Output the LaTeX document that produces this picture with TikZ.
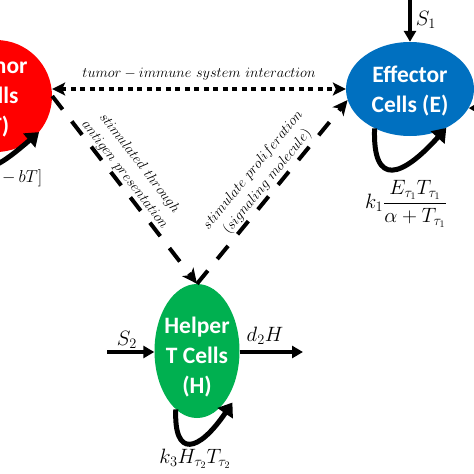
\documentclass[tikz,border=0pt]{standalone}
\usepackage{fontspec}
\usetikzlibrary{arrows.meta,shapes.geometric,calc}
\newfontfamily\cellfont{Carlito}
\definecolor{tumred}{HTML}{FF0000}
\definecolor{effblue}{HTML}{0070C0}
\definecolor{helpgreen}{HTML}{00B050}
\begin{document}
\begin{tikzpicture}[x=1pt,y=-1pt,
  cell/.style={ellipse, inner sep=0pt},
  celltext/.style={text=white, font=\cellfont\bfseries\fontsize{23.5}{30}\selectfont, align=center, inner sep=0pt},
  lbl/.style={font=\fontsize{14.3}{18.5}\selectfont, inner sep=1pt},
  biglbl/.style={font=\fontsize{20}{24}\selectfont, inner sep=1pt},
  flow/.style={line width=3.5pt, -{Triangle[length=11pt,width=12pt]}},
  selfloop/.style={line width=5pt, -{Triangle[length=13pt,width=18pt]}},
  dotline/.style={line width=4.5pt, dash pattern=on 5pt off 4.5pt, {Stealth[length=13pt,width=13pt,inset=3pt]}-{Stealth[length=13pt,width=13pt,inset=3pt]}},
  dashline/.style={line width=4pt, dash pattern=on 17pt off 15pt, -{Stealth[length=15pt,width=14pt,inset=4pt]}}
]
\useasboundingbox (0,0) rectangle (474,474);
\clip (0,0) rectangle (474,474);
\fill[white] (0,0) rectangle (474,474);

% cells
\node[cell, fill=tumred, minimum width=112pt, minimum height=112pt] (T) at (-4,96) {};
\node[cell, fill=effblue, minimum width=128pt, minimum height=94pt] (E) at (410,89) {};
\node[cell, fill=helpgreen, minimum width=85pt, minimum height=134pt] (H) at (197,351) {};

% interactions
\draw[dotline] (T.east |- E.west) -- (E.west)
  node[lbl, midway, above=5pt] (ti) {$tumor - immune\ system\ interaction$};
\draw[dashline] (T.east) -- (H.north)
  node[lbl, sloped, above, pos=0.45, align=center] (tl) {$stimulated\ through$\\$antigen\ presentation$};
\draw[dashline] (H.north) -- (E.190)
  node[lbl, sloped, above, pos=0.52, align=center] (hl) {$stimulate\ proliferation$\\$(signaling\ molecule)$};

% sources and losses
\coordinate (s1) at (410,-5);
\draw[flow] (s1) -- (E.north);
\node[biglbl] (s1l) at (426,20) {$S_1$};
\coordinate (s2) at (107,352);
\draw[flow] (s2) -- (s2 -| H.west);
\node[biglbl] (s2l) at (127,340) {$S_2$};
\coordinate (d2) at (303,352);
\draw[flow] (d2 -| H.east) -- (d2);
\node[biglbl] (d2l) at (265,336) {$d_2H$};
\coordinate (er) at (510,108);
\draw[flow] (er) -- (E.-18);

% self loops
\draw[selfloop] (T.250) .. controls +(0,35) and +(-35,30) .. (T.-40);
\draw[selfloop] (E.228) .. controls +(-2,60) and +(-44,49) .. (E.-47);
\draw[selfloop] (H.250) .. controls +(-2,49) and +(-34,50) .. ([xshift=8pt]H.-62);

% loop labels
\node[biglbl, font=\fontsize{18}{22}\selectfont, anchor=west] (tg) at (1,178) {$-\,bT]$};
\node[biglbl] (eg) at (406,204) {$\displaystyle k_1\frac{E_{\tau_1}T_{\tau_1}}{\alpha+T_{\tau_1}}$};
\node[biglbl] (hg) at (195,459) {$k_3H_{\tau_2}T_{\tau_2}$};

% cell names
\node[celltext] (Tt) at (-4,98) {Tumor\\Cells\\(T)};
\node[celltext] (Et) at (410,91) {Effector\\Cells (E)};
\node[celltext] (Ht) at (197,357) {Helper\\T Cells\\(H)};
\end{tikzpicture}
\end{document}
